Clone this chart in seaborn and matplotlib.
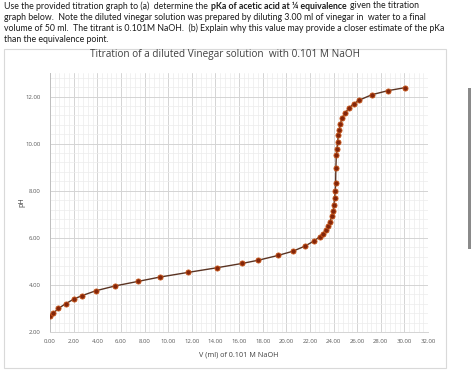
import matplotlib
matplotlib.use("Agg")
import matplotlib.pyplot as plt
import seaborn as sns
import pandas as pd
import numpy as np
from matplotlib.patches import Rectangle
from matplotlib.ticker import MultipleLocator, FormatStrFormatter

# ---- data ----
volume_ml = [0.00, 0.28, 0.70, 1.36, 2.06, 2.74, 3.87, 5.54, 7.46, 9.27, 11.67, 14.15,
             16.24, 17.65, 19.29, 20.56, 21.55, 22.37, 22.82, 23.10, 23.33, 23.50,
             23.70, 23.87, 23.98, 24.04, 24.09, 24.15, 24.18, 24.20, 24.24, 24.29,
             24.35, 24.40, 24.49, 24.58, 24.72, 25.00, 25.31, 25.70, 26.19, 27.26,
             28.61, 30.08]
ph_values = [2.68, 2.79, 3.00, 3.21, 3.41, 3.55, 3.75, 3.96, 4.15, 4.33, 4.53, 4.73,
             4.91, 5.05, 5.25, 5.43, 5.64, 5.87, 6.04, 6.18, 6.32, 6.49,
             6.69, 6.93, 7.14, 7.41, 7.69, 7.97, 8.33, 8.96, 9.51, 9.78,
             10.06, 10.35, 10.60, 10.84, 11.08, 11.31, 11.51, 11.69, 11.85, 12.08,
             12.25, 12.38]

title = "Titration of a diluted Vinegar solution  with 0.101 M NaOH"
x_label = "V (ml) of 0.101 M NaOH"
y_label = "pH"
para_prefix = "Use the provided titration graph to (a)  determine the"
para_bold = "pKa of acetic acid at \u00bc equivalence"
para_suffix = "given the titration"
para_rest = [
    "graph below.  Note the diluted vinegar solution was prepared by diluting 3.00 ml of vinegar in  water to a final",
    "volume of 50 ml.  The titrant is 0.101M NaOH.  (b) Explain why this value may provide a closer estimate of the pKa",
    "than the equivalence point.",
]

df = pd.DataFrame({"V": volume_ml, "pH": ph_values})

sns.set_theme(style="white")
plt.rcParams["font.family"] = ["Open Sans", "DejaVu Sans"]

W, H = 474, 372
fig = plt.figure(figsize=(W / 100, H / 100), dpi=100)
fig.patch.set_facecolor("white")

def fx(px):
    return px / W

def fy(py):
    return 1 - py / H

# chart box
fig.patches.append(Rectangle((fx(4), fy(368)), fx(446) - fx(4), fy(49) - fy(368),
                             transform=fig.transFigure, facecolor="white",
                             edgecolor="#d9d9d9", linewidth=0.8, zorder=-2))
# grey bar at the right
fig.patches.append(Rectangle((fx(467.5), fy(249)), fx(471) - fx(467.5), fy(88) - fy(249),
                             transform=fig.transFigure, facecolor="#8a8a8a",
                             edgecolor="none", zorder=-2))

ax = fig.add_axes([fx(50), fy(332), fx(428) - fx(50), fy(73) - fy(332)])
ax.set_zorder(1)
ax.patch.set_alpha(0)

sns.lineplot(data=df, x="V", y="pH", ax=ax, estimator=None, sort=False,
             color="#5a3322", linewidth=1.0, marker="o", markersize=3.7,
             markerfacecolor="#84260a", markeredgecolor="#c9571a",
             markeredgewidth=0.6, zorder=5)

ax.set_xlim(0, 32)
ax.set_ylim(2, 13)
ax.xaxis.set_major_locator(MultipleLocator(2))
ax.yaxis.set_major_locator(MultipleLocator(2))
ax.xaxis.set_minor_locator(MultipleLocator(0.4))
ax.yaxis.set_minor_locator(MultipleLocator(0.4))
ax.xaxis.set_major_formatter(FormatStrFormatter("%.2f"))
ax.yaxis.set_major_formatter(FormatStrFormatter("%.2f"))
ax.grid(which="major", color="#d4d4d4", linewidth=0.7)
ax.grid(which="minor", color="#ececec", linewidth=0.5)
ax.set_axisbelow(True)
for s in ["top", "right"]:
    ax.spines[s].set_visible(False)
ax.spines["left"].set_color("#bfbfbf")
ax.spines["left"].set_linewidth(0.7)
ax.spines["bottom"].set_color("#d4d4d4")
ax.spines["bottom"].set_linewidth(0.7)
ax.tick_params(axis="both", which="both", length=0, labelsize=4.3, labelcolor="#595959")
ax.tick_params(axis="x", pad=5)
ax.tick_params(axis="y", pad=7)
ax.set_xlabel(x_label, fontsize=5.2, color="#404040")
ax.set_ylabel(y_label, fontsize=5.2, color="#404040")
ax.xaxis.set_label_coords((239 - 50) / 378, -(355 - 332) / 259)
ax.yaxis.set_label_coords((22 - 50) / 378, (332 - 202) / 259)
ax.xaxis.label.set_va("center")
ax.yaxis.label.set_va("center")

fig.canvas.draw()
renderer = fig.canvas.get_renderer()

def text_width(s, size, weight="normal", family=None):
    t = fig.text(0, 0, s, fontsize=size, fontweight=weight,
                 family=family if family else plt.rcParams["font.family"])
    w = t.get_window_extent(renderer).width
    t.remove()
    return w

# title fitted to its width in the picture
tfam = ["Open Sans", "DejaVu Sans"]
tsize = 8.0 * 270 / text_width(title, 8.0, family=tfam)
fig.text(fx(225), fy(55), title, fontsize=tsize, color="#404040",
         ha="center", va="center", family=tfam)

# paragraph: one common size, fitted on average to the spans in the picture
pfam = ["Lato", "DejaVu Sans"]
pcol = "#1a1a1a"

def fit_size(s, span, weight="normal"):
    return 8.0 * span / text_width(s, 8.0, weight=weight, family=pfam)

nsize = float(np.mean([fit_size(para_prefix, 201), fit_size(para_suffix, 74),
                       fit_size(para_rest[0], 408), fit_size(para_rest[1], 439)]))
bsize = nsize
space_w = text_width("a a", nsize, family=pfam) - text_width("aa", nsize, family=pfam)

def put(s, x0, yy, size, weight="normal"):
    t = fig.text(fx(x0), fy(yy), s, fontsize=size, fontweight=weight, color=pcol,
                 ha="left", va="center", family=pfam)
    fig.canvas.draw()
    bb = t.get_window_extent(fig.canvas.get_renderer())
    return bb.x1

x_end = put(para_prefix, 4, 6, nsize)
x_end = put(para_bold, x_end + space_w + 1.0, 6, bsize, "bold")
put(para_suffix, x_end + space_w + 1.5, 6, nsize)
put(para_rest[0], 4, 17.5, nsize)
put(para_rest[1], 4, 28.5, nsize)
put(para_rest[2], 4, 39.5, nsize)

fig.savefig("out.png", dpi=100, facecolor="white")
